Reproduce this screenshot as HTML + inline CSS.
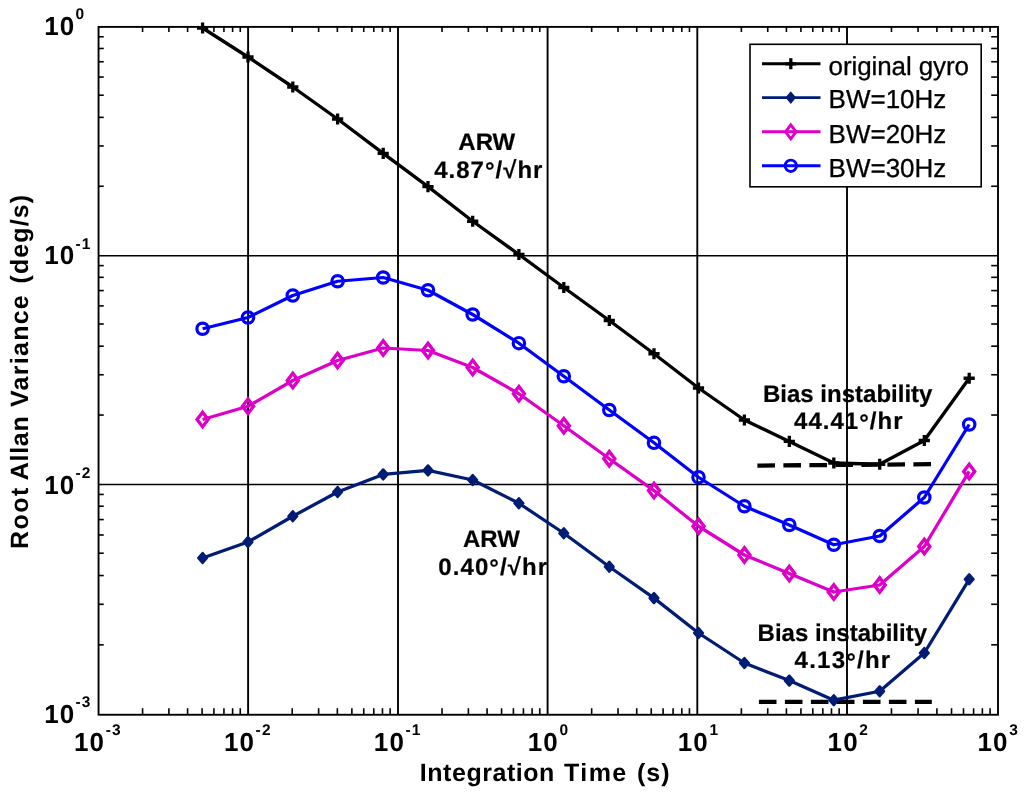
<!DOCTYPE html>
<html lang="en"><head><meta charset="utf-8">
<title>Root Allan Variance vs Integration Time</title>
<style>
html,body{margin:0;padding:0;background:#fff;}
body{width:1024px;height:792px;overflow:hidden;}
svg{display:block;}
text{font-family:"Liberation Sans", sans-serif;fill:#000;text-rendering:geometricPrecision;}
.b{font-weight:bold;}
.tk{font-weight:bold;font-size:26px;letter-spacing:1.1px;}
.sp{font-weight:bold;font-size:15.5px;letter-spacing:1.2px;}
.ax{font-weight:bold;font-size:25px;}
.an{font-weight:bold;font-size:24px;stroke:#000;stroke-width:0.2px;}
.lg{font-size:26px;stroke:#000;stroke-width:0.3px;}
</style></head><body>
<svg width="1024" height="792" viewBox="0 0 1024 792">
<rect x="0" y="0" width="1024" height="792" fill="#ffffff"/>
<g stroke="#000" fill="none">
<line x1="248.1" y1="26.9" x2="248.1" y2="714.75" stroke-width="1.9"/>
<line x1="398" y1="26.9" x2="398" y2="714.75" stroke-width="1.9"/>
<line x1="547.6" y1="26.9" x2="547.6" y2="714.75" stroke-width="1.9"/>
<line x1="697.3" y1="26.9" x2="697.3" y2="714.75" stroke-width="1.9"/>
<line x1="847" y1="26.9" x2="847" y2="714.75" stroke-width="1.9"/>
<line x1="98.55" y1="255.75" x2="998" y2="255.75" stroke-width="1.5"/>
<line x1="98.55" y1="484.5" x2="998" y2="484.5" stroke-width="1.5"/>
</g>
<g stroke="#000" stroke-width="1.6" fill="none">
<line x1="142.57" y1="714.75" x2="142.57" y2="708.25"/>
<line x1="142.57" y1="26.9" x2="142.57" y2="32"/>
<line x1="168.9" y1="714.75" x2="168.9" y2="708.25"/>
<line x1="168.9" y1="26.9" x2="168.9" y2="32"/>
<line x1="187.59" y1="714.75" x2="187.59" y2="708.25"/>
<line x1="187.59" y1="26.9" x2="187.59" y2="32"/>
<line x1="202.08" y1="714.75" x2="202.08" y2="708.25"/>
<line x1="202.08" y1="26.9" x2="202.08" y2="32"/>
<line x1="213.92" y1="714.75" x2="213.92" y2="708.25"/>
<line x1="213.92" y1="26.9" x2="213.92" y2="32"/>
<line x1="223.93" y1="714.75" x2="223.93" y2="708.25"/>
<line x1="223.93" y1="26.9" x2="223.93" y2="32"/>
<line x1="232.61" y1="714.75" x2="232.61" y2="708.25"/>
<line x1="232.61" y1="26.9" x2="232.61" y2="32"/>
<line x1="240.26" y1="714.75" x2="240.26" y2="708.25"/>
<line x1="240.26" y1="26.9" x2="240.26" y2="32"/>
<line x1="292.22" y1="714.75" x2="292.22" y2="708.25"/>
<line x1="292.22" y1="26.9" x2="292.22" y2="32"/>
<line x1="318.62" y1="714.75" x2="318.62" y2="708.25"/>
<line x1="318.62" y1="26.9" x2="318.62" y2="32"/>
<line x1="337.35" y1="714.75" x2="337.35" y2="708.25"/>
<line x1="337.35" y1="26.9" x2="337.35" y2="32"/>
<line x1="351.88" y1="714.75" x2="351.88" y2="708.25"/>
<line x1="351.88" y1="26.9" x2="351.88" y2="32"/>
<line x1="363.74" y1="714.75" x2="363.74" y2="708.25"/>
<line x1="363.74" y1="26.9" x2="363.74" y2="32"/>
<line x1="373.78" y1="714.75" x2="373.78" y2="708.25"/>
<line x1="373.78" y1="26.9" x2="373.78" y2="32"/>
<line x1="382.47" y1="714.75" x2="382.47" y2="708.25"/>
<line x1="382.47" y1="26.9" x2="382.47" y2="32"/>
<line x1="390.14" y1="714.75" x2="390.14" y2="708.25"/>
<line x1="390.14" y1="26.9" x2="390.14" y2="32"/>
<line x1="442.03" y1="714.75" x2="442.03" y2="708.25"/>
<line x1="442.03" y1="26.9" x2="442.03" y2="32"/>
<line x1="468.38" y1="714.75" x2="468.38" y2="708.25"/>
<line x1="468.38" y1="26.9" x2="468.38" y2="32"/>
<line x1="487.07" y1="714.75" x2="487.07" y2="708.25"/>
<line x1="487.07" y1="26.9" x2="487.07" y2="32"/>
<line x1="501.57" y1="714.75" x2="501.57" y2="708.25"/>
<line x1="501.57" y1="26.9" x2="501.57" y2="32"/>
<line x1="513.41" y1="714.75" x2="513.41" y2="708.25"/>
<line x1="513.41" y1="26.9" x2="513.41" y2="32"/>
<line x1="523.43" y1="714.75" x2="523.43" y2="708.25"/>
<line x1="523.43" y1="26.9" x2="523.43" y2="32"/>
<line x1="532.1" y1="714.75" x2="532.1" y2="708.25"/>
<line x1="532.1" y1="26.9" x2="532.1" y2="32"/>
<line x1="539.75" y1="714.75" x2="539.75" y2="708.25"/>
<line x1="539.75" y1="26.9" x2="539.75" y2="32"/>
<line x1="591.66" y1="714.75" x2="591.66" y2="708.25"/>
<line x1="591.66" y1="26.9" x2="591.66" y2="32"/>
<line x1="618.03" y1="714.75" x2="618.03" y2="708.25"/>
<line x1="618.03" y1="26.9" x2="618.03" y2="32"/>
<line x1="636.73" y1="714.75" x2="636.73" y2="708.25"/>
<line x1="636.73" y1="26.9" x2="636.73" y2="32"/>
<line x1="651.24" y1="714.75" x2="651.24" y2="708.25"/>
<line x1="651.24" y1="26.9" x2="651.24" y2="32"/>
<line x1="663.09" y1="714.75" x2="663.09" y2="708.25"/>
<line x1="663.09" y1="26.9" x2="663.09" y2="32"/>
<line x1="673.11" y1="714.75" x2="673.11" y2="708.25"/>
<line x1="673.11" y1="26.9" x2="673.11" y2="32"/>
<line x1="681.79" y1="714.75" x2="681.79" y2="708.25"/>
<line x1="681.79" y1="26.9" x2="681.79" y2="32"/>
<line x1="689.45" y1="714.75" x2="689.45" y2="708.25"/>
<line x1="689.45" y1="26.9" x2="689.45" y2="32"/>
<line x1="741.36" y1="714.75" x2="741.36" y2="708.25"/>
<line x1="741.36" y1="26.9" x2="741.36" y2="32"/>
<line x1="767.73" y1="714.75" x2="767.73" y2="708.25"/>
<line x1="767.73" y1="26.9" x2="767.73" y2="32"/>
<line x1="786.43" y1="714.75" x2="786.43" y2="708.25"/>
<line x1="786.43" y1="26.9" x2="786.43" y2="32"/>
<line x1="800.94" y1="714.75" x2="800.94" y2="708.25"/>
<line x1="800.94" y1="26.9" x2="800.94" y2="32"/>
<line x1="812.79" y1="714.75" x2="812.79" y2="708.25"/>
<line x1="812.79" y1="26.9" x2="812.79" y2="32"/>
<line x1="822.81" y1="714.75" x2="822.81" y2="708.25"/>
<line x1="822.81" y1="26.9" x2="822.81" y2="32"/>
<line x1="831.49" y1="714.75" x2="831.49" y2="708.25"/>
<line x1="831.49" y1="26.9" x2="831.49" y2="32"/>
<line x1="839.15" y1="714.75" x2="839.15" y2="708.25"/>
<line x1="839.15" y1="26.9" x2="839.15" y2="32"/>
<line x1="891.46" y1="714.75" x2="891.46" y2="708.25"/>
<line x1="891.46" y1="26.9" x2="891.46" y2="32"/>
<line x1="918.05" y1="714.75" x2="918.05" y2="708.25"/>
<line x1="918.05" y1="26.9" x2="918.05" y2="32"/>
<line x1="936.91" y1="714.75" x2="936.91" y2="708.25"/>
<line x1="936.91" y1="26.9" x2="936.91" y2="32"/>
<line x1="951.54" y1="714.75" x2="951.54" y2="708.25"/>
<line x1="951.54" y1="26.9" x2="951.54" y2="32"/>
<line x1="963.5" y1="714.75" x2="963.5" y2="708.25"/>
<line x1="963.5" y1="26.9" x2="963.5" y2="32"/>
<line x1="973.61" y1="714.75" x2="973.61" y2="708.25"/>
<line x1="973.61" y1="26.9" x2="973.61" y2="32"/>
<line x1="982.37" y1="714.75" x2="982.37" y2="708.25"/>
<line x1="982.37" y1="26.9" x2="982.37" y2="32"/>
<line x1="990.09" y1="714.75" x2="990.09" y2="708.25"/>
<line x1="990.09" y1="26.9" x2="990.09" y2="32"/>
<line x1="98.55" y1="644.84" x2="103.75" y2="644.84"/>
<line x1="998" y1="644.84" x2="991.2" y2="644.84"/>
<line x1="98.55" y1="604.29" x2="103.75" y2="604.29"/>
<line x1="998" y1="604.29" x2="991.2" y2="604.29"/>
<line x1="98.55" y1="575.53" x2="103.75" y2="575.53"/>
<line x1="998" y1="575.53" x2="991.2" y2="575.53"/>
<line x1="98.55" y1="553.21" x2="103.75" y2="553.21"/>
<line x1="998" y1="553.21" x2="991.2" y2="553.21"/>
<line x1="98.55" y1="534.98" x2="103.75" y2="534.98"/>
<line x1="998" y1="534.98" x2="991.2" y2="534.98"/>
<line x1="98.55" y1="519.57" x2="103.75" y2="519.57"/>
<line x1="998" y1="519.57" x2="991.2" y2="519.57"/>
<line x1="98.55" y1="506.21" x2="103.75" y2="506.21"/>
<line x1="998" y1="506.21" x2="991.2" y2="506.21"/>
<line x1="98.55" y1="494.44" x2="103.75" y2="494.44"/>
<line x1="998" y1="494.44" x2="991.2" y2="494.44"/>
<line x1="98.55" y1="415.04" x2="103.75" y2="415.04"/>
<line x1="998" y1="415.04" x2="991.2" y2="415.04"/>
<line x1="98.55" y1="374.76" x2="103.75" y2="374.76"/>
<line x1="998" y1="374.76" x2="991.2" y2="374.76"/>
<line x1="98.55" y1="346.18" x2="103.75" y2="346.18"/>
<line x1="998" y1="346.18" x2="991.2" y2="346.18"/>
<line x1="98.55" y1="324.01" x2="103.75" y2="324.01"/>
<line x1="998" y1="324.01" x2="991.2" y2="324.01"/>
<line x1="98.55" y1="305.9" x2="103.75" y2="305.9"/>
<line x1="998" y1="305.9" x2="991.2" y2="305.9"/>
<line x1="98.55" y1="290.58" x2="103.75" y2="290.58"/>
<line x1="998" y1="290.58" x2="991.2" y2="290.58"/>
<line x1="98.55" y1="277.32" x2="103.75" y2="277.32"/>
<line x1="998" y1="277.32" x2="991.2" y2="277.32"/>
<line x1="98.55" y1="265.62" x2="103.75" y2="265.62"/>
<line x1="998" y1="265.62" x2="991.2" y2="265.62"/>
<line x1="98.55" y1="186.26" x2="103.75" y2="186.26"/>
<line x1="998" y1="186.26" x2="991.2" y2="186.26"/>
<line x1="98.55" y1="145.96" x2="103.75" y2="145.96"/>
<line x1="998" y1="145.96" x2="991.2" y2="145.96"/>
<line x1="98.55" y1="117.37" x2="103.75" y2="117.37"/>
<line x1="998" y1="117.37" x2="991.2" y2="117.37"/>
<line x1="98.55" y1="95.19" x2="103.75" y2="95.19"/>
<line x1="998" y1="95.19" x2="991.2" y2="95.19"/>
<line x1="98.55" y1="77.07" x2="103.75" y2="77.07"/>
<line x1="998" y1="77.07" x2="991.2" y2="77.07"/>
<line x1="98.55" y1="61.75" x2="103.75" y2="61.75"/>
<line x1="998" y1="61.75" x2="991.2" y2="61.75"/>
<line x1="98.55" y1="48.48" x2="103.75" y2="48.48"/>
<line x1="998" y1="48.48" x2="991.2" y2="48.48"/>
<line x1="98.55" y1="36.77" x2="103.75" y2="36.77"/>
<line x1="998" y1="36.77" x2="991.2" y2="36.77"/>
</g>
<rect x="98.55" y="26.9" width="899.45" height="687.85" fill="none" stroke="#000" stroke-width="1.9"/>
<line x1="757.4" y1="465.6" x2="931" y2="464.2" stroke="#000" stroke-width="4.3" stroke-dasharray="17.6 8.4"/>
<line x1="758.9" y1="701.9" x2="931.8" y2="701.9" stroke="#000" stroke-width="4.3" stroke-dasharray="17.6 8.4"/>
<g>
<polyline points="202.6,558 248,542 292.8,516.25 337.6,492 383.2,474.4 428,470.4 472.7,480 518.9,503.25 563.8,533.25 609.3,566.75 654,598.1 698.5,633 744.4,663 789.3,680.6 833.8,700.2 879.7,691.25 924.3,653 969.2,579.3" fill="none" stroke="#001c74" stroke-width="3.25" stroke-linejoin="round"/>
<path d="M202.6 553L207 558L202.6 563L198.2 558Z" stroke="#001c74" stroke-width="2.4" fill="#001c74" stroke-linejoin="round"/>
<path d="M248 537L252.4 542L248 547L243.6 542Z" stroke="#001c74" stroke-width="2.4" fill="#001c74" stroke-linejoin="round"/>
<path d="M292.8 511.25L297.2 516.25L292.8 521.25L288.4 516.25Z" stroke="#001c74" stroke-width="2.4" fill="#001c74" stroke-linejoin="round"/>
<path d="M337.6 487L342 492L337.6 497L333.2 492Z" stroke="#001c74" stroke-width="2.4" fill="#001c74" stroke-linejoin="round"/>
<path d="M383.2 469.4L387.6 474.4L383.2 479.4L378.8 474.4Z" stroke="#001c74" stroke-width="2.4" fill="#001c74" stroke-linejoin="round"/>
<path d="M428 465.4L432.4 470.4L428 475.4L423.6 470.4Z" stroke="#001c74" stroke-width="2.4" fill="#001c74" stroke-linejoin="round"/>
<path d="M472.7 475L477.1 480L472.7 485L468.3 480Z" stroke="#001c74" stroke-width="2.4" fill="#001c74" stroke-linejoin="round"/>
<path d="M518.9 498.25L523.3 503.25L518.9 508.25L514.5 503.25Z" stroke="#001c74" stroke-width="2.4" fill="#001c74" stroke-linejoin="round"/>
<path d="M563.8 528.25L568.2 533.25L563.8 538.25L559.4 533.25Z" stroke="#001c74" stroke-width="2.4" fill="#001c74" stroke-linejoin="round"/>
<path d="M609.3 561.75L613.7 566.75L609.3 571.75L604.9 566.75Z" stroke="#001c74" stroke-width="2.4" fill="#001c74" stroke-linejoin="round"/>
<path d="M654 593.1L658.4 598.1L654 603.1L649.6 598.1Z" stroke="#001c74" stroke-width="2.4" fill="#001c74" stroke-linejoin="round"/>
<path d="M698.5 628L702.9 633L698.5 638L694.1 633Z" stroke="#001c74" stroke-width="2.4" fill="#001c74" stroke-linejoin="round"/>
<path d="M744.4 658L748.8 663L744.4 668L740 663Z" stroke="#001c74" stroke-width="2.4" fill="#001c74" stroke-linejoin="round"/>
<path d="M789.3 675.6L793.7 680.6L789.3 685.6L784.9 680.6Z" stroke="#001c74" stroke-width="2.4" fill="#001c74" stroke-linejoin="round"/>
<path d="M833.8 695.2L838.2 700.2L833.8 705.2L829.4 700.2Z" stroke="#001c74" stroke-width="2.4" fill="#001c74" stroke-linejoin="round"/>
<path d="M879.7 686.25L884.1 691.25L879.7 696.25L875.3 691.25Z" stroke="#001c74" stroke-width="2.4" fill="#001c74" stroke-linejoin="round"/>
<path d="M924.3 648L928.7 653L924.3 658L919.9 653Z" stroke="#001c74" stroke-width="2.4" fill="#001c74" stroke-linejoin="round"/>
<path d="M969.2 574.3L973.6 579.3L969.2 584.3L964.8 579.3Z" stroke="#001c74" stroke-width="2.4" fill="#001c74" stroke-linejoin="round"/>
</g>
<g>
<polyline points="202.6,419.5 248,406.25 292.8,380.5 337.6,360.5 383.2,348 428,350.5 472.7,367.5 518.9,393.75 563.8,425.75 609.3,458.75 654,490.6 698.5,526.25 744.4,555 789.3,573.5 833.8,592 879.7,585 924.3,546.5 969.2,471.4" fill="none" stroke="#dd00c8" stroke-width="3.25" stroke-linejoin="round"/>
<path d="M202.6 412.3L208.1 419.5L202.6 426.7L197.1 419.5Z" stroke="#dd00c8" stroke-width="3.4" fill="none" stroke-linejoin="miter"/>
<path d="M248 399.05L253.5 406.25L248 413.45L242.5 406.25Z" stroke="#dd00c8" stroke-width="3.4" fill="none" stroke-linejoin="miter"/>
<path d="M292.8 373.3L298.3 380.5L292.8 387.7L287.3 380.5Z" stroke="#dd00c8" stroke-width="3.4" fill="none" stroke-linejoin="miter"/>
<path d="M337.6 353.3L343.1 360.5L337.6 367.7L332.1 360.5Z" stroke="#dd00c8" stroke-width="3.4" fill="none" stroke-linejoin="miter"/>
<path d="M383.2 340.8L388.7 348L383.2 355.2L377.7 348Z" stroke="#dd00c8" stroke-width="3.4" fill="none" stroke-linejoin="miter"/>
<path d="M428 343.3L433.5 350.5L428 357.7L422.5 350.5Z" stroke="#dd00c8" stroke-width="3.4" fill="none" stroke-linejoin="miter"/>
<path d="M472.7 360.3L478.2 367.5L472.7 374.7L467.2 367.5Z" stroke="#dd00c8" stroke-width="3.4" fill="none" stroke-linejoin="miter"/>
<path d="M518.9 386.55L524.4 393.75L518.9 400.95L513.4 393.75Z" stroke="#dd00c8" stroke-width="3.4" fill="none" stroke-linejoin="miter"/>
<path d="M563.8 418.55L569.3 425.75L563.8 432.95L558.3 425.75Z" stroke="#dd00c8" stroke-width="3.4" fill="none" stroke-linejoin="miter"/>
<path d="M609.3 451.55L614.8 458.75L609.3 465.95L603.8 458.75Z" stroke="#dd00c8" stroke-width="3.4" fill="none" stroke-linejoin="miter"/>
<path d="M654 483.4L659.5 490.6L654 497.8L648.5 490.6Z" stroke="#dd00c8" stroke-width="3.4" fill="none" stroke-linejoin="miter"/>
<path d="M698.5 519.05L704 526.25L698.5 533.45L693 526.25Z" stroke="#dd00c8" stroke-width="3.4" fill="none" stroke-linejoin="miter"/>
<path d="M744.4 547.8L749.9 555L744.4 562.2L738.9 555Z" stroke="#dd00c8" stroke-width="3.4" fill="none" stroke-linejoin="miter"/>
<path d="M789.3 566.3L794.8 573.5L789.3 580.7L783.8 573.5Z" stroke="#dd00c8" stroke-width="3.4" fill="none" stroke-linejoin="miter"/>
<path d="M833.8 584.8L839.3 592L833.8 599.2L828.3 592Z" stroke="#dd00c8" stroke-width="3.4" fill="none" stroke-linejoin="miter"/>
<path d="M879.7 577.8L885.2 585L879.7 592.2L874.2 585Z" stroke="#dd00c8" stroke-width="3.4" fill="none" stroke-linejoin="miter"/>
<path d="M924.3 539.3L929.8 546.5L924.3 553.7L918.8 546.5Z" stroke="#dd00c8" stroke-width="3.4" fill="none" stroke-linejoin="miter"/>
<path d="M969.2 464.2L974.7 471.4L969.2 478.6L963.7 471.4Z" stroke="#dd00c8" stroke-width="3.4" fill="none" stroke-linejoin="miter"/>
</g>
<g>
<polyline points="202.6,328.75 248,317.5 292.8,295.5 337.6,281.25 383.2,277.5 428,290.25 472.7,314.5 518.9,343.2 563.8,376.25 609.3,410 654,442.8 698.5,477.25 744.4,506.25 789.3,525 833.8,544.75 879.7,536 924.3,497.5 969.2,424.5" fill="none" stroke="#0000ff" stroke-width="3.25" stroke-linejoin="round"/>
<circle cx="202.6" cy="328.75" r="5.7" stroke="#0000ff" stroke-width="3.2" fill="none"/>
<circle cx="248" cy="317.5" r="5.7" stroke="#0000ff" stroke-width="3.2" fill="none"/>
<circle cx="292.8" cy="295.5" r="5.7" stroke="#0000ff" stroke-width="3.2" fill="none"/>
<circle cx="337.6" cy="281.25" r="5.7" stroke="#0000ff" stroke-width="3.2" fill="none"/>
<circle cx="383.2" cy="277.5" r="5.7" stroke="#0000ff" stroke-width="3.2" fill="none"/>
<circle cx="428" cy="290.25" r="5.7" stroke="#0000ff" stroke-width="3.2" fill="none"/>
<circle cx="472.7" cy="314.5" r="5.7" stroke="#0000ff" stroke-width="3.2" fill="none"/>
<circle cx="518.9" cy="343.2" r="5.7" stroke="#0000ff" stroke-width="3.2" fill="none"/>
<circle cx="563.8" cy="376.25" r="5.7" stroke="#0000ff" stroke-width="3.2" fill="none"/>
<circle cx="609.3" cy="410" r="5.7" stroke="#0000ff" stroke-width="3.2" fill="none"/>
<circle cx="654" cy="442.8" r="5.7" stroke="#0000ff" stroke-width="3.2" fill="none"/>
<circle cx="698.5" cy="477.25" r="5.7" stroke="#0000ff" stroke-width="3.2" fill="none"/>
<circle cx="744.4" cy="506.25" r="5.7" stroke="#0000ff" stroke-width="3.2" fill="none"/>
<circle cx="789.3" cy="525" r="5.7" stroke="#0000ff" stroke-width="3.2" fill="none"/>
<circle cx="833.8" cy="544.75" r="5.7" stroke="#0000ff" stroke-width="3.2" fill="none"/>
<circle cx="879.7" cy="536" r="5.7" stroke="#0000ff" stroke-width="3.2" fill="none"/>
<circle cx="924.3" cy="497.5" r="5.7" stroke="#0000ff" stroke-width="3.2" fill="none"/>
<circle cx="969.2" cy="424.5" r="5.7" stroke="#0000ff" stroke-width="3.2" fill="none"/>
</g>
<g>
<polyline points="202.6,28 248,57 292.8,87 337.6,119 383.2,153.3 428,186.6 472.7,221.25 518.9,254.5 563.8,287.5 609.3,320.5 654,353.75 698.5,388 744.4,420 789.3,441.4 833.8,463 879.7,464.25 924.3,440.5 969.2,378.25" fill="none" stroke="#000000" stroke-width="3.35" stroke-linejoin="round"/>
<path d="M197 28H208.2M202.6 22.4V33.6" stroke="#000000" stroke-width="3.3" fill="none"/>
<path d="M242.4 57H253.6M248 51.4V62.6" stroke="#000000" stroke-width="3.3" fill="none"/>
<path d="M287.2 87H298.4M292.8 81.4V92.6" stroke="#000000" stroke-width="3.3" fill="none"/>
<path d="M332 119H343.2M337.6 113.4V124.6" stroke="#000000" stroke-width="3.3" fill="none"/>
<path d="M377.6 153.3H388.8M383.2 147.7V158.9" stroke="#000000" stroke-width="3.3" fill="none"/>
<path d="M422.4 186.6H433.6M428 181V192.2" stroke="#000000" stroke-width="3.3" fill="none"/>
<path d="M467.1 221.25H478.3M472.7 215.65V226.85" stroke="#000000" stroke-width="3.3" fill="none"/>
<path d="M513.3 254.5H524.5M518.9 248.9V260.1" stroke="#000000" stroke-width="3.3" fill="none"/>
<path d="M558.2 287.5H569.4M563.8 281.9V293.1" stroke="#000000" stroke-width="3.3" fill="none"/>
<path d="M603.7 320.5H614.9M609.3 314.9V326.1" stroke="#000000" stroke-width="3.3" fill="none"/>
<path d="M648.4 353.75H659.6M654 348.15V359.35" stroke="#000000" stroke-width="3.3" fill="none"/>
<path d="M692.9 388H704.1M698.5 382.4V393.6" stroke="#000000" stroke-width="3.3" fill="none"/>
<path d="M738.8 420H750M744.4 414.4V425.6" stroke="#000000" stroke-width="3.3" fill="none"/>
<path d="M783.7 441.4H794.9M789.3 435.8V447" stroke="#000000" stroke-width="3.3" fill="none"/>
<path d="M828.2 463H839.4M833.8 457.4V468.6" stroke="#000000" stroke-width="3.3" fill="none"/>
<path d="M874.1 464.25H885.3M879.7 458.65V469.85" stroke="#000000" stroke-width="3.3" fill="none"/>
<path d="M918.7 440.5H929.9M924.3 434.9V446.1" stroke="#000000" stroke-width="3.3" fill="none"/>
<path d="M963.6 378.25H974.8M969.2 372.65V383.85" stroke="#000000" stroke-width="3.3" fill="none"/>
</g>
<rect x="750" y="44.3" width="231.2" height="142.5" fill="#fff" stroke="#000" stroke-width="1.6"/>
<line x1="762" y1="63.8" x2="820.5" y2="63.8" stroke="#000000" stroke-width="2.9"/>
<path d="M785.3 63.8H796.3M790.8 58.3V69.3" stroke="#000000" stroke-width="3.3" fill="none"/>
<text class="lg" x="828.6" y="74.6" style="letter-spacing:-0.1px">original gyro</text>
<line x1="762" y1="97.6" x2="820.5" y2="97.6" stroke="#001c74" stroke-width="2.9"/>
<path d="M790.8 92.4L795.2 97.6L790.8 102.8L786.4 97.6Z" stroke="#001c74" stroke-width="1.4" fill="#001c74" stroke-linejoin="miter"/>
<text class="lg" x="828.6" y="108.4">BW=10Hz</text>
<line x1="762" y1="131.8" x2="820.5" y2="131.8" stroke="#dd00c8" stroke-width="2.9"/>
<path d="M790.8 124.8L796.1 131.8L790.8 138.8L785.5 131.8Z" stroke="#dd00c8" stroke-width="2.9" fill="none" stroke-linejoin="miter"/>
<text class="lg" x="828.6" y="142.6">BW=20Hz</text>
<line x1="762" y1="165.8" x2="820.5" y2="165.8" stroke="#0000ff" stroke-width="2.9"/>
<circle cx="790.8" cy="165.8" r="5.7" stroke="#0000ff" stroke-width="2.9" fill="none"/>
<text class="lg" x="828.6" y="176.8">BW=30Hz</text>
<text class="tk" x="44.2" y="35.2">10</text>
<text class="sp" x="75.4" y="19.3">0</text>
<text class="tk" x="44.2" y="264.48">10</text>
<text class="sp" x="75.4" y="248.58">-1</text>
<text class="tk" x="44.2" y="493.77">10</text>
<text class="sp" x="75.4" y="477.87">-2</text>
<text class="tk" x="44.2" y="723.05">10</text>
<text class="sp" x="75.4" y="707.15">-3</text>
<text class="tk" x="74.05" y="751">10</text>
<text class="sp" x="105.65" y="735.1">-3</text>
<text class="tk" x="223.96" y="751">10</text>
<text class="sp" x="255.56" y="735.1">-2</text>
<text class="tk" x="373.87" y="751">10</text>
<text class="sp" x="405.47" y="735.1">-1</text>
<text class="tk" x="527.77" y="751">10</text>
<text class="sp" x="559.48" y="735.1">0</text>
<text class="tk" x="677.68" y="751">10</text>
<text class="sp" x="709.38" y="735.1">1</text>
<text class="tk" x="827.59" y="751">10</text>
<text class="sp" x="859.29" y="735.1">2</text>
<text class="tk" x="977.5" y="751">10</text>
<text class="sp" x="1009.2" y="735.1">3</text>
<text class="ax" y="780.6"><tspan x="419.8" textLength="134.6" lengthAdjust="spacing">Integration</tspan> <tspan x="564" textLength="62.2" lengthAdjust="spacing">Time</tspan> <tspan x="637" textLength="32.6" lengthAdjust="spacing">(s)</tspan></text>
<text class="ax" transform="translate(28.3 550) rotate(-90)" y="0"><tspan x="1.0" style="letter-spacing:1.47px">Root</tspan> <tspan x="69.8" style="letter-spacing:0.7px">Allan</tspan> <tspan x="143.0" style="letter-spacing:1.27px">Variance</tspan> <tspan x="266.6" style="letter-spacing:1.07px">(deg/s)</tspan></text>
<text class="an" x="458.3" y="150.4">ARW</text>
<text class="an" x="434.2" y="177.7" textLength="108.2" lengthAdjust="spacing">4.87<tspan dy="1.4">°</tspan><tspan dy="-1.4">/</tspan>√hr</text>
<text class="an" x="463" y="547.2">ARW</text>
<text class="an" x="438.2" y="575" textLength="109" lengthAdjust="spacing">0.40<tspan dy="1.4">°</tspan><tspan dy="-1.4">/</tspan>√hr</text>
<text class="an" x="763" y="401.6">Bias instability</text>
<text class="an" x="794" y="429.3" textLength="108.6" lengthAdjust="spacing">44.41<tspan dy="1.4">°</tspan><tspan dy="-1.4">/</tspan>hr</text>
<text class="an" x="757.6" y="640.5">Bias instability</text>
<text class="an" x="794.6" y="668.4" textLength="95.6" lengthAdjust="spacing">4.13<tspan dy="1.4">°</tspan><tspan dy="-1.4">/</tspan>hr</text>
</svg>
</body></html>
